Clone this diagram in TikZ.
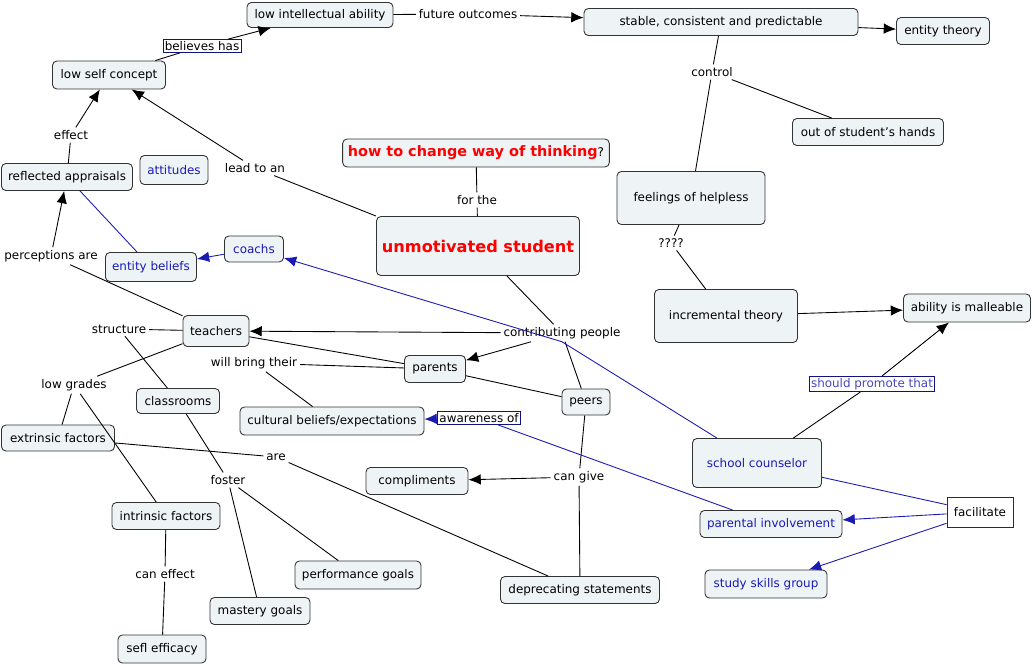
\documentclass[tikz,border=0pt]{standalone}
\usepackage{fontspec}
\setmainfont{DejaVu Sans}
\usetikzlibrary{arrows.meta}
\definecolor{nfill}{HTML}{EEF3F6}
\definecolor{blu}{HTML}{1A1AB4}
\begin{document}
\begin{tikzpicture}[x=0.02cm,y=-0.02cm,
  font=\fontsize{6.8}{8}\selectfont,
  box/.style={draw=black!80,fill=nfill,rounded corners=2.5pt,inner sep=3pt,line width=0.5pt},
  sz/.style 2 args={minimum width=#1*0.02cm,minimum height=#2*0.02cm},
  lab/.style={inner sep=1.5pt,fill=white},
  lbox/.style={draw=blu!70!black,fill=white,inner sep=1pt,line width=0.5pt},
  ln/.style={line width=0.5pt},
  ar/.style={line width=0.5pt,-{Latex[length=7pt,width=6pt]}},
  bl/.style={line width=0.5pt,draw=blu},
  bar/.style={line width=0.5pt,draw=blu,-{Latex[length=7pt,width=6pt]},blu}]
\useasboundingbox (0,0) rectangle (1035,666);
% nodes
\node[box,sz={146}{25}] (lowint) at (320,15) {low intellectual ability};
\node[box,sz={274}{27}] (stable) at (721,22) {stable, consistent and predictable};
\node[box,sz={93}{27}] (entity) at (943,31) {entity theory};
\node[box,sz={113}{28}] (lowself) at (109,75) {low self concept};
\node[box,sz={151}{27}] (outof) at (868,132) {out of student's hands};
\node[box,sz={266}{28}] (howto) at (476,153) {\textcolor{red}{\bfseries\fontsize{8.2}{10}\selectfont how to change way of thinking}?};
\node[box,sz={203}{59},font=\fontsize{9.2}{11}\selectfont\bfseries,text=red] (unmot) at (478,246) {unmotivated student};
\node[box,sz={131}{27}] (refl) at (67,177) {reflected appraisals};
\node[box,sz={68}{29},text=blu] (att) at (174,170) {attitudes};
\node[box,sz={148}{53}] (feel) at (691,198) {feelings of helpless};
\node[box,sz={59}{26},text=blu] (coachs) at (254,249) {coachs};
\node[box,sz={91}{29},text=blu] (entbel) at (151,267) {entity beliefs};
\node[box,sz={143}{53}] (incr) at (726,316) {incremental theory};
\node[box,sz={127}{28}] (abil) at (967,308) {ability is malleable};
\node[box,sz={66}{31}] (teach) at (216,331) {teachers};
\node[box,sz={61}{27}] (par) at (435,369) {parents};
\node[box,sz={83}{25}] (class) at (178,401) {classrooms};
\node[box,sz={184}{28}] (cult) at (332,421) {cultural beliefs/expectations};
\node[box,sz={48}{26}] (peers) at (586,402) {peers};
\node[box,sz={113}{26}] (extr) at (58,438) {extrinsic factors};
\node[box,sz={129}{49},text=blu] (couns) at (757,463) {school counselor};
\node[box,sz={102}{27}] (comp) at (417,481) {compliments};
\node[draw=blu,fill=white,sz={66}{30},inner sep=2pt,line width=0.5pt] (fac) at (980,512) {facilitate};
\node[box,sz={108}{27}] (intr) at (166,516) {intrinsic factors};
\node[box,sz={142}{27},text=blu] (parinv) at (771,524) {parental involvement};
\node[box,sz={126}{28}] (perf) at (358,575) {performance goals};
\node[box,sz={159}{27}] (depr) at (580,590) {deprecating statements};
\node[box,sz={122}{28},text=blu] (study) at (766,584) {study skills group};
\node[box,sz={100}{27}] (mast) at (260,611) {mastery goals};
\node[box,sz={88}{28}] (sefl) at (162,649) {sefl efficacy};
% labels
\node[lbox] (believes) at (202,46) {believes has};
\node[lab] (future) at (468,14) {future outcomes};
\node[lab] (control) at (712,72) {control};
\node[lab] (forthe) at (477,200) {for the};
\node[lab] (leadto) at (255,168) {lead to an};
\node[lab] (effect) at (71,135) {effect};
\node[lab] (q) at (671,243) {????};
\node[lab] (perc) at (51,256) {perceptions are};
\node[lab] (struct) at (119,329) {structure};
\node[lab] (contrib) at (562,333) {contributing people};
\node[lab] (will) at (254,363) {will bring their};
\node[lab] (lowg) at (74,385) {low grades};
\node[lbox] (aware) at (479,418) {awareness of};
\node[lbox,text=blu!80] (should) at (872,384) {should promote that};
\node[lab] (are) at (276,457) {are};
\node[lab] (cangive) at (579,477) {can give};
\node[lab] (foster) at (228,480) {foster};
\node[lab] (caneff) at (165,574) {can effect};
% connectors
\draw[ln] (lowself) -- (believes); \draw[ar] (believes) -- (lowint);
\draw[ln] (lowint) -- (future); \draw[ar] (future) -- (stable);
\draw[ar] (stable) -- (entity);
\draw[ln] (stable) -- (control); \draw[ln] (control) -- (outof); \draw[ln] (control) -- (feel);
\draw[ln] (feel) -- (q); \draw[ln] (q) -- (incr);
\draw[ar] (incr) -- (abil);
\draw[ln] (unmot.north west) -- (leadto); \draw[ar] (leadto) -- (lowself);
\draw[ln] (refl) -- (effect); \draw[ar] (effect) -- (lowself);
\draw[ln] (unmot) -- (forthe); \draw[ln] (forthe) -- (howto);
\draw[bl] (entbel) -- (refl);
\draw[bar] (coachs) -- (entbel);
\draw[ln] (unmot) -- (contrib);
\draw[ar] (contrib) -- (teach);
\draw[ar] (contrib) -- (par);
\draw[ln] (contrib) -- (peers);
\draw[bl] (couns) -- (contrib.south);
\draw[bar] (contrib.south) -- (coachs);
\draw[ln] (teach) -- (perc); \draw[ar] (perc) -- (refl);
\draw[ln] (teach) -- (struct); \draw[ln] (struct) -- (class);
\draw[ln] (teach) -- (lowg); \draw[ln] (lowg) -- (extr); \draw[ln] (lowg) -- (intr);
\draw[ln] (teach) -- (par);
\draw[ln] (par) -- (will); \draw[ln] (will) -- (cult);
\draw[ln] (par) -- (peers);
\draw[ln] (peers) -- (cangive); \draw[ar] (cangive) -- (comp); \draw[ln] (cangive) -- (depr);
\draw[bl] (parinv) -- (aware); \draw[bar] (aware) -- (cult);
\draw[ln] (class) -- (foster); \draw[ln] (foster) -- (perf); \draw[ln] (foster) -- (mast);
\draw[ln] (extr) -- (are); \draw[ln] (are) -- (depr);
\draw[ln] (intr) -- (caneff); \draw[ln] (caneff) -- (sefl);
\draw[ln] (couns) -- (should); \draw[ar] (should) -- (abil);
\draw[bl] (couns) -- (fac);
\draw[bar] (fac) -- (parinv);
\draw[bar] (fac) -- (study);
\end{tikzpicture}
\end{document}
